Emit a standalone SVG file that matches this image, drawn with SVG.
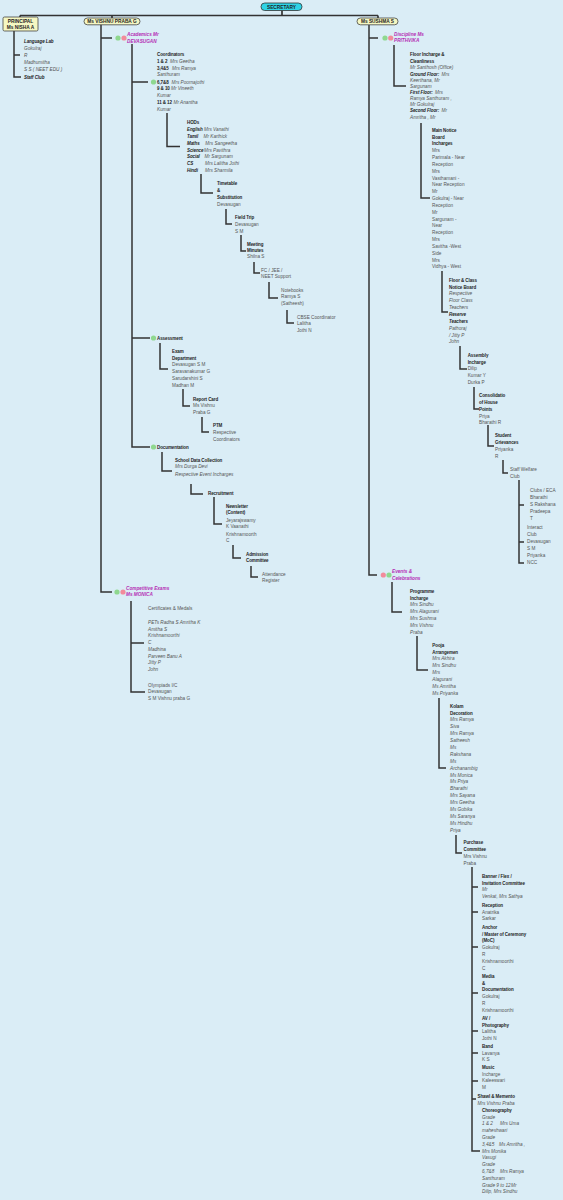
<svg xmlns="http://www.w3.org/2000/svg" width="563" height="1200" viewBox="0 0 563 1200">
<style>
text{font-family:"Liberation Sans",Arial,sans-serif;font-size:4.7px}
.b{font-weight:bold;fill:#1e1e1e;font-size:4.5px;letter-spacing:-0.08px}
.n{fill:#555}
.i{fill:#555;font-style:italic}
.bi{font-weight:bold;font-style:italic;fill:#1e1e1e;font-size:4.5px;letter-spacing:-0.08px}
.p{font-weight:bold;font-style:italic;fill:#b52db5}
.bx{font-weight:bold;fill:#1e1e1e;font-size:4.8px;text-anchor:middle}
.c{stroke:#333;stroke-width:1.5;fill:none}
.g{fill:#8fd88f}
.r{fill:#f28b9b}
.box{fill:#f5f7c2;stroke:#444;stroke-width:0.8}
</style>
<rect width="563" height="1200" fill="#daedf6"/>

<g id="connectors">
<path class="c" d="M282 10.5V15.5M20 15.5H378M20 15.5V17M112 15.5V18M378 15.5V18" style="stroke-width:1.7"/>
<path class="c" d="M14 31V77H21M14 55H20"/>
<path class="c" d="M101 24.5V592H112M101 38H112"/>
<path class="c" d="M132 44V447H150M132 82H148M132 338H150"/>
<path class="c" d="M167 113V146.5H180"/>
<path class="c" d="M201 174V193H213"/>
<path class="c" d="M226 209V224H232"/>
<path class="c" d="M241 235V251H246"/>
<path class="c" d="M254 262V273H260"/>
<path class="c" d="M269 282V298H278"/>
<path class="c" d="M287 310V323H294"/>
<path class="c" d="M160 343V369H168"/>
<path class="c" d="M183 389V406H190"/>
<path class="c" d="M202 417V432H209"/>
<path class="c" d="M162 452V471H172"/>
<path class="c" d="M191 484V494H203"/>
<path class="c" d="M214 497V524H222"/>
<path class="c" d="M233 545V558H241"/>
<path class="c" d="M251 566V577H258"/>
<path class="c" d="M131 601V692H145M131 643H144"/>
<path class="c" d="M369 25V575H377M369 38H378"/>
<path class="c" d="M394 45V86H406"/>
<path class="c" d="M421 123V198H430"/>
<path class="c" d="M442 271V312H448"/>
<path class="c" d="M460 346V369H467"/>
<path class="c" d="M474 387V409H479"/>
<path class="c" d="M488 425V446H494"/>
<path class="c" d="M503 460V473H508"/>
<path class="c" d="M519 480V563H524M519 505H524M519 542H524"/>
<path class="c" d="M392 582V612H402"/>
<path class="c" d="M417 636V670H428"/>
<path class="c" d="M439 698V768H446"/>
<path class="c" d="M456 835V853H462"/>
<path class="c" d="M472 867V1151H480M472 887H478M472 912H478M472 947H478M472 993H478M472 1031H478M472 1053H478M472 1081H478M472 1099H476"/>
</g>

<g id="secretary">
<rect x="261" y="3" width="41" height="7.5" rx="3.7" fill="#2ed3e6" stroke="#333" stroke-width="0.8"/>
<text class="bx" x="281.5" y="8.5">SECRETARY</text>
</g>

<g id="principal">
<rect class="box" x="3" y="17" width="35" height="14" rx="1.5"/>
<text class="bx" x="20.5" y="22.8">PRINCIPAL</text>
<text class="bx" x="20.5" y="29.3">Ms NISHA A</text>
</g>

<g id="principal-children">
<text x="24"><tspan class="bi" y="42.7">Language Lab</tspan><tspan class="i" x="24" y="49.7">Gokulraj</tspan><tspan class="i" x="24" y="56.7">R</tspan><tspan class="i" x="24" y="63.7">Madhumitha</tspan><tspan class="i" x="24" y="70.7">S S ( NEET EDU )</tspan><tspan class="bi" x="24" y="78.7">Staff Club</tspan></text>
</g>

<g id="vishnu">
<rect class="box" x="84" y="18" width="56" height="6.8" rx="3.4"/>
<text class="bx" x="112" y="23">Ms VISHNU PRABA G</text>
</g>

<g id="sushma">
<rect class="box" x="357" y="18" width="41" height="6.8" rx="3.4"/>
<text class="bx" x="377.5" y="23">Ms SUSHMA S</text>
</g>

<g id="academics">
<circle class="g" cx="118" cy="38" r="2.6"/><circle class="r" cx="124" cy="38" r="2.6"/>
<text class="p" x="127"><tspan y="36">Academics Mr</tspan><tspan x="127" y="42.5">DEVASUGAN</tspan></text>
</g>

<g id="coordinators">
<circle class="g" cx="153.5" cy="82" r="2.6"/>
<text x="157"><tspan class="b" y="56">Coordinators</tspan>
<tspan class="b" x="157" y="62.7">1 &amp; 2</tspan><tspan class="i" x="170" y="62.7">Mrs Geetha</tspan>
<tspan class="b" x="157" y="69.7">3,4&amp;5</tspan><tspan class="i" x="172" y="69.7">Mrs Ramya</tspan>
<tspan class="i" x="157" y="76.4">Santhuram</tspan>
<tspan class="b" x="157" y="83.7">6,7&amp;8</tspan><tspan class="i" x="171.5" y="83.7">Mrs Poornajothi</tspan>
<tspan class="b" x="157" y="90">9 &amp; 10</tspan><tspan class="i" x="171" y="90">Mr Vineeth</tspan>
<tspan class="i" x="157" y="97.4">Kumar</tspan>
<tspan class="b" x="157" y="103.7">11 &amp; 12</tspan><tspan class="i" x="173.5" y="103.7">Mr Anantha</tspan>
<tspan class="i" x="157" y="110.7">Kumar</tspan></text>
</g>

<g id="hods">
<text x="187"><tspan class="b" y="124">HODs</tspan>
<tspan class="bi" x="187" y="130.7">English</tspan><tspan class="i" x="204" y="130.7">Mrs Vanathi</tspan>
<tspan class="bi" x="187" y="137.7">Tamil</tspan><tspan class="i" x="203.5" y="137.7">Mr Karthick</tspan>
<tspan class="bi" x="187" y="144.7">Maths</tspan><tspan class="i" x="205.3" y="144.7">Mrs Sangeetha</tspan>
<tspan class="bi" x="187" y="151.7">Science</tspan><tspan class="i" x="204" y="151.7">Mrs Pavithra</tspan>
<tspan class="bi" x="187" y="158.4">Social</tspan><tspan class="i" x="204.5" y="158.4">Mr Sargunam</tspan>
<tspan class="bi" x="187" y="164.7">CS</tspan><tspan class="i" x="205" y="164.7">Mrs Lalitha Jothi</tspan>
<tspan class="bi" x="187" y="171.7">Hindi</tspan><tspan class="i" x="205" y="171.7">Mrs Sharmila</tspan></text>
</g>

<g id="timetable">
<text x="217"><tspan class="b" y="184.7">Timetable</tspan><tspan class="b" x="217" y="191.7">&amp;</tspan><tspan class="b" x="217" y="198.7">Substitution</tspan><tspan class="n" x="217" y="205.7">Devasugan</tspan></text>
</g>
<g id="fieldtrip">
<text x="235"><tspan class="b" y="218.7">Field Trip</tspan><tspan class="n" x="235" y="225.7">Devasugan</tspan><tspan class="n" x="235" y="232.7">S M</tspan></text>
</g>
<g id="meeting">
<text x="247"><tspan class="b" y="245.7">Meeting</tspan><tspan class="b" x="247" y="251.7">Minutes</tspan><tspan class="n" x="247" y="258.4">Shilna S</tspan></text>
</g>
<g id="fcjee">
<text x="261" class="n"><tspan y="271.7">FC / JEE /</tspan><tspan x="261" y="278.4">NEET Support</tspan></text>
</g>
<g id="notebooks">
<text x="281" class="n"><tspan y="291.7">Notebooks</tspan><tspan x="281" y="298.4">Ramya S</tspan><tspan x="281" y="305.4">(Satheesh)</tspan></text>
</g>
<g id="cbse">
<text x="297" class="n"><tspan y="318.7">CBSE Coordinator</tspan><tspan x="297" y="325.4">Lalitha</tspan><tspan x="297" y="331.7">Jothi N</tspan></text>
</g>

<g id="assessment">
<circle class="g" cx="153.5" cy="338" r="2.6"/>
<text class="b" x="157" y="339.7">Assessment</text>
</g>
<g id="exam">
<text x="172"><tspan class="b" y="352.7">Exam</tspan><tspan class="b" x="172" y="359.7">Department</tspan><tspan class="n" x="172" y="366.4">Devasugan S M</tspan><tspan class="n" x="172" y="373.4">Saravanakumar G</tspan><tspan class="n" x="172" y="380.4">Sarudarshini S</tspan><tspan class="n" x="172" y="387.4">Madhan M</tspan></text>
</g>
<g id="reportcard">
<text x="193"><tspan class="b" y="400.7">Report Card</tspan><tspan class="n" x="193" y="407.4">Ms Vishnu</tspan><tspan class="n" x="193" y="413.7">Praba G</tspan></text>
</g>
<g id="ptm">
<text x="213"><tspan class="b" y="426.7">PTM</tspan><tspan class="n" x="213" y="433.7">Respective</tspan><tspan class="n" x="213" y="440.7">Coordinators</tspan></text>
</g>

<g id="documentation">
<circle class="g" cx="153.5" cy="447" r="2.6"/>
<text class="b" x="157" y="449">Documentation</text>
</g>
<g id="schooldata">
<text x="175"><tspan class="b" y="461.7">School Data Collection</tspan><tspan class="i" x="175" y="468.4">Mrs Durga Devi</tspan><tspan class="i" x="175" y="475.7">Respective Event Incharges</tspan></text>
</g>
<g id="recruitment">
<text class="b" x="208" y="495">Recruitment</text>
</g>
<g id="newsletter">
<text x="226"><tspan class="b" y="507.7">Newsletter</tspan><tspan class="b" x="226" y="514.4">(Content)</tspan><tspan class="n" x="226" y="521.7">Jeyarajswamy</tspan><tspan class="n" x="226" y="528.4">K Vaanathi</tspan><tspan class="n" x="226" y="535.7">Krishnamoorth</tspan><tspan class="n" x="226" y="542.4">C</tspan></text>
</g>
<g id="admission">
<text x="246"><tspan class="b" y="555.7">Admission</tspan><tspan class="b" x="246" y="562.4">Committee</tspan></text>
</g>
<g id="attendance">
<text x="262" class="n"><tspan y="575.7">Attendance</tspan><tspan x="262" y="581.7">Register</tspan></text>
</g>

<g id="competitive">
<circle class="g" cx="117" cy="592" r="2.6"/><circle class="r" cx="123" cy="592" r="2.6"/>
<text class="p" x="126"><tspan y="589.7">Competitive Exams</tspan><tspan x="126" y="596.2">Ms MONICA</tspan></text>
</g>
<g id="competitive-children">
<text x="148"><tspan class="n" y="610">Certificates &amp; Medals</tspan>
<tspan class="i" x="148" y="624">PETs Radha S Amritha K</tspan>
<tspan class="i" x="148" y="630.7">Amitha S</tspan>
<tspan class="i" x="148" y="637.4">Krishnamoorthi</tspan>
<tspan class="i" x="148" y="644">C</tspan>
<tspan class="i" x="148" y="651">Madhina</tspan>
<tspan class="i" x="148" y="657.7">Parveen Banu A</tspan>
<tspan class="i" x="148" y="664.4">Jitty P</tspan>
<tspan class="i" x="148" y="671.4">John</tspan>
<tspan class="n" x="148" y="686.7">Olympiads I/C</tspan>
<tspan class="n" x="148" y="693.4">Devasugan</tspan>
<tspan class="n" x="148" y="700">S M Vishnu praba G</tspan></text>
</g>

<g id="discipline">
<circle class="g" cx="385" cy="38" r="2.6"/><circle class="r" cx="390.7" cy="38" r="2.6"/>
<text class="p" x="394"><tspan y="36">Discipline Ms</tspan><tspan x="394" y="42">PRITHVIKA</tspan></text>
</g>
<g id="floorincharge">
<text x="410"><tspan class="b" y="55.7">Floor Incharge &amp;</tspan>
<tspan class="b" x="410" y="62.7">Cleanliness</tspan>
<tspan class="i" x="410" y="68.7">Mr Santhosh (Office)</tspan>
<tspan class="bi" x="410" y="75.7">Ground Floor:</tspan><tspan class="i" x="441.5" y="75.7">Mrs</tspan>
<tspan class="i" x="410" y="81.7">Keerthana, Mr</tspan>
<tspan class="i" x="410" y="87.7">Sargunam</tspan>
<tspan class="bi" x="410" y="93.7">First Floor:</tspan><tspan class="i" x="435" y="93.7">Mrs</tspan>
<tspan class="i" x="410" y="99.7">Ramya Santhuram ,</tspan>
<tspan class="i" x="410" y="105.7">Mr Gokulraj</tspan>
<tspan class="bi" x="410" y="112.4">Second Floor:</tspan><tspan class="i" x="441.5" y="112.4">Mr</tspan>
<tspan class="i" x="410" y="118.7">Amritha , Mr</tspan></text>
</g>
<g id="mainnotice">
<text x="432"><tspan class="b" y="131.7">Main Notice</tspan>
<tspan class="b" x="432" dy="6.84">Board</tspan>
<tspan class="b" x="432" dy="6.84">Incharges</tspan>
<tspan class="n" x="432" dy="6.84">Mrs</tspan>
<tspan class="n" x="432" dy="6.84">Parimala - Near</tspan>
<tspan class="n" x="432" dy="6.84">Reception</tspan>
<tspan class="n" x="432" dy="6.84">Mrs</tspan>
<tspan class="n" x="432" dy="6.84">Vasthamani -</tspan>
<tspan class="n" x="432" dy="6.84">Near Reception</tspan>
<tspan class="n" x="432" dy="6.84">Mr</tspan>
<tspan class="n" x="432" dy="6.84">Gokulraj - Near</tspan>
<tspan class="n" x="432" dy="6.84">Reception</tspan>
<tspan class="n" x="432" dy="6.84">Mr</tspan>
<tspan class="n" x="432" dy="6.84">Sargunam -</tspan>
<tspan class="n" x="432" dy="6.84">Near</tspan>
<tspan class="n" x="432" dy="6.84">Reception</tspan>
<tspan class="n" x="432" dy="6.84">Mrs</tspan>
<tspan class="n" x="432" dy="6.84">Savitha -West</tspan>
<tspan class="n" x="432" dy="6.84">Side</tspan>
<tspan class="n" x="432" dy="6.84">Mrs</tspan>
<tspan class="n" x="432" dy="6.84">Vidhya - West</tspan></text>
</g>
<g id="floorclass">
<text x="449"><tspan class="b" y="281.7">Floor &amp; Class</tspan>
<tspan class="b" x="449" dy="6.85">Notice Board</tspan>
<tspan class="i" x="449" dy="6.85">Respective</tspan>
<tspan class="i" x="449" dy="6.85">Floor Class</tspan>
<tspan class="i" x="449" dy="6.85">Teachers</tspan>
<tspan class="bi" x="449" dy="6.85">Reserve</tspan>
<tspan class="bi" x="449" dy="6.85">Teachers</tspan>
<tspan class="i" x="449" dy="6.85">Pathoraj</tspan>
<tspan class="i" x="449" dy="6.85">/ Jitty P</tspan>
<tspan class="i" x="449" dy="6.85">John</tspan></text>
</g>
<g id="assembly">
<text x="467.7"><tspan class="b" y="356.7">Assembly</tspan><tspan class="b" x="467.7" dy="6.8">Incharge</tspan><tspan class="n" x="467.7" dy="6.8">Dilip</tspan><tspan class="n" x="467.7" dy="6.8">Kumar Y</tspan><tspan class="n" x="467.7" dy="6.8">Durka P</tspan></text>
</g>
<g id="housepoints">
<text x="479"><tspan class="b" y="397">Consolidatio</tspan><tspan class="b" x="479" dy="6.85">of House</tspan><tspan class="b" x="479" dy="6.85">Points</tspan><tspan class="n" x="479" dy="6.85">Priya</tspan><tspan class="n" x="479" dy="6.85">Bharathi R</tspan></text>
</g>
<g id="grievances">
<text x="495"><tspan class="b" y="437.4">Student</tspan><tspan class="b" x="495" dy="6.85">Grievances</tspan><tspan class="n" x="495" dy="6.85">Priyanka</tspan><tspan class="n" x="495" dy="6.85">R</tspan></text>
</g>
<g id="staffwelfare">
<text x="510" class="n"><tspan y="470.7">Staff Welfare</tspan><tspan x="510" dy="6.9">Club</tspan></text>
</g>
<g id="clubs">
<text x="530" class="n"><tspan y="492.4">Clubs / ECA</tspan><tspan x="530" dy="6.8">Bharathi</tspan><tspan x="530" dy="6.8">S Rakshana</tspan><tspan x="530" dy="6.8">Pradeepa</tspan><tspan x="530" dy="6.8">T</tspan></text>
</g>
<g id="interact">
<text x="527" class="n"><tspan y="529">Interact</tspan><tspan x="527" dy="7">Club</tspan><tspan x="527" dy="7">Devasugan</tspan><tspan x="527" dy="7">S M</tspan><tspan x="527" dy="7">Priyanka</tspan><tspan x="527" dy="7">NCC</tspan></text>
</g>

<g id="events">
<circle class="r" cx="383.3" cy="575" r="2.6"/><circle class="g" cx="389" cy="575" r="2.6"/>
<text class="p" x="392"><tspan y="572.7">Events &amp;</tspan><tspan x="392" y="579.7">Celebrations</tspan></text>
</g>
<g id="programme">
<text x="410"><tspan class="b" y="592.7">Programme</tspan><tspan class="b" x="410" dy="6.88">Incharge</tspan><tspan class="i" x="410" dy="6.88">Mrs Sindhu</tspan><tspan class="i" x="410" dy="6.88">Mrs Alagurani</tspan><tspan class="i" x="410" dy="6.88">Mrs Sushma</tspan><tspan class="i" x="410" dy="6.88">Mrs Vishnu</tspan><tspan class="i" x="410" dy="6.88">Praba</tspan></text>
</g>
<g id="pooja">
<text x="432.3"><tspan class="b" y="646.7">Pooja</tspan><tspan class="b" x="432.3" dy="6.86">Arrangemen</tspan><tspan class="i" x="432.3" dy="6.86">Mrs Akhira</tspan><tspan class="i" x="432.3" dy="6.86">Mrs Sindhu</tspan><tspan class="i" x="432.3" dy="6.86">Mrs</tspan><tspan class="i" x="432.3" dy="6.86">Alagurani</tspan><tspan class="i" x="432.3" dy="6.86">Ms Amritha</tspan><tspan class="i" x="432.3" dy="6.86">Ms Priyanka</tspan></text>
</g>
<g id="kolam">
<text x="450"><tspan class="b" y="707.7">Kolam</tspan>
<tspan class="b" x="450" dy="6.88">Decoration</tspan>
<tspan class="i" x="450" dy="6.88">Mrs Ramya</tspan>
<tspan class="i" x="450" dy="6.88">Siva</tspan>
<tspan class="i" x="450" dy="6.88">Mrs Ramya</tspan>
<tspan class="i" x="450" dy="6.88">Satheesh</tspan>
<tspan class="i" x="450" dy="6.88">Ms</tspan>
<tspan class="i" x="450" dy="6.88">Rakshana</tspan>
<tspan class="i" x="450" dy="6.88">Ms</tspan>
<tspan class="i" x="450" dy="6.88">Archanambig</tspan>
<tspan class="i" x="450" dy="6.88">Ms Monica</tspan>
<tspan class="i" x="450" dy="6.88">Ms Priya</tspan>
<tspan class="i" x="450" dy="6.88">Bharathi</tspan>
<tspan class="i" x="450" dy="6.88">Mrs Sayana</tspan>
<tspan class="i" x="450" dy="6.88">Mrs Geetha</tspan>
<tspan class="i" x="450" dy="6.88">Ms Gobika</tspan>
<tspan class="i" x="450" dy="6.88">Ms Saranya</tspan>
<tspan class="i" x="450" dy="6.88">Ms Hindhu</tspan>
<tspan class="i" x="450" dy="6.88">Priya</tspan></text>
</g>
<g id="purchase">
<text x="463.5"><tspan class="b" y="844.4">Purchase</tspan><tspan class="b" x="463.5" dy="6.9">Committee</tspan><tspan class="n" x="463.5" dy="6.9">Mrs Vishnu</tspan><tspan class="n" x="463.5" dy="6.9">Praba</tspan></text>
</g>
<g id="banner">
<text x="482"><tspan class="b" y="877.7">Banner / Flex /</tspan><tspan class="b" x="482" dy="6.8">Invitation Committee</tspan><tspan class="i" x="482" dy="6.8">Mr</tspan><tspan class="i" x="482" dy="6.8">Venkat, Mrs Sathya</tspan></text>
</g>
<g id="reception">
<text x="482"><tspan class="b" y="906.7">Reception</tspan><tspan class="n" x="482" dy="6.8">Anatrika</tspan><tspan class="n" x="482" dy="6.8">Sarkar</tspan></text>
</g>
<g id="anchor">
<text x="482"><tspan class="b" y="928.7">Anchor</tspan><tspan class="b" x="482" dy="6.8">/ Master of Ceremony</tspan><tspan class="b" x="482" dy="6.8">(MoC)</tspan><tspan class="n" x="482" dy="6.8">Gokulraj</tspan><tspan class="n" x="482" dy="6.8">R</tspan><tspan class="n" x="482" dy="6.8">Krishnamoorthi</tspan><tspan class="n" x="482" dy="6.8">C</tspan></text>
</g>
<g id="media">
<text x="482"><tspan class="b" y="977.7">Media</tspan><tspan class="b" x="482" dy="6.8">&amp;</tspan><tspan class="b" x="482" dy="6.8">Documentation</tspan><tspan class="n" x="482" dy="6.8">Gokulraj</tspan><tspan class="n" x="482" dy="6.8">R</tspan><tspan class="n" x="482" dy="6.8">Krishnamoorthi</tspan></text>
</g>
<g id="av">
<text x="482"><tspan class="b" y="1019.7">AV /</tspan><tspan class="b" x="482" dy="6.8">Photography</tspan><tspan class="n" x="482" dy="6.8">Lalitha</tspan><tspan class="n" x="482" dy="6.8">Jothi N</tspan></text>
</g>
<g id="band">
<text x="482"><tspan class="b" y="1047.7">Band</tspan><tspan class="n" x="482" dy="6.8">Lavanya</tspan><tspan class="n" x="482" dy="6.8">K S</tspan></text>
</g>
<g id="music">
<text x="482"><tspan class="b" y="1068.7">Music</tspan><tspan class="n" x="482" dy="6.8">Incharge</tspan><tspan class="n" x="482" dy="6.8">Kaleeswari</tspan><tspan class="n" x="482" dy="6.8">M</tspan></text>
</g>
<g id="shawl">
<text x="477.5"><tspan class="b" y="1097.7">Shawl &amp; Memento</tspan><tspan class="i" x="477.5" dy="6.8">Mrs Vishnu Praba</tspan></text>
</g>
<g id="choreography">
<text x="482"><tspan class="b" y="1111.7">Choreography</tspan>
<tspan class="i" x="482" dy="6.8">Grade</tspan>
<tspan class="i" x="482" dy="6.8">1 &amp; 2</tspan><tspan class="i" x="500">Mrs Uma</tspan>
<tspan class="i" x="482" dy="6.8">maheshwari</tspan>
<tspan class="i" x="482" dy="6.8">Grade</tspan>
<tspan class="i" x="482" dy="6.8">3,4&amp;5</tspan><tspan class="i" x="499">Ms Amritha ,</tspan>
<tspan class="i" x="482" dy="6.8">Mrs Monika</tspan>
<tspan class="i" x="482" dy="6.8">Vasugi</tspan>
<tspan class="i" x="482" dy="6.8">Grade</tspan>
<tspan class="i" x="482" dy="6.8">6,7&amp;8</tspan><tspan class="i" x="500">Mrs Ramya</tspan>
<tspan class="i" x="482" dy="6.8">Santhuram</tspan>
<tspan class="i" x="482" dy="6.8">Grade 9 to 12</tspan><tspan class="i" x="511">Mr</tspan>
<tspan class="i" x="482" dy="6.8">Dilip, Mrs Sindhu</tspan></text>
</g>
</svg>
